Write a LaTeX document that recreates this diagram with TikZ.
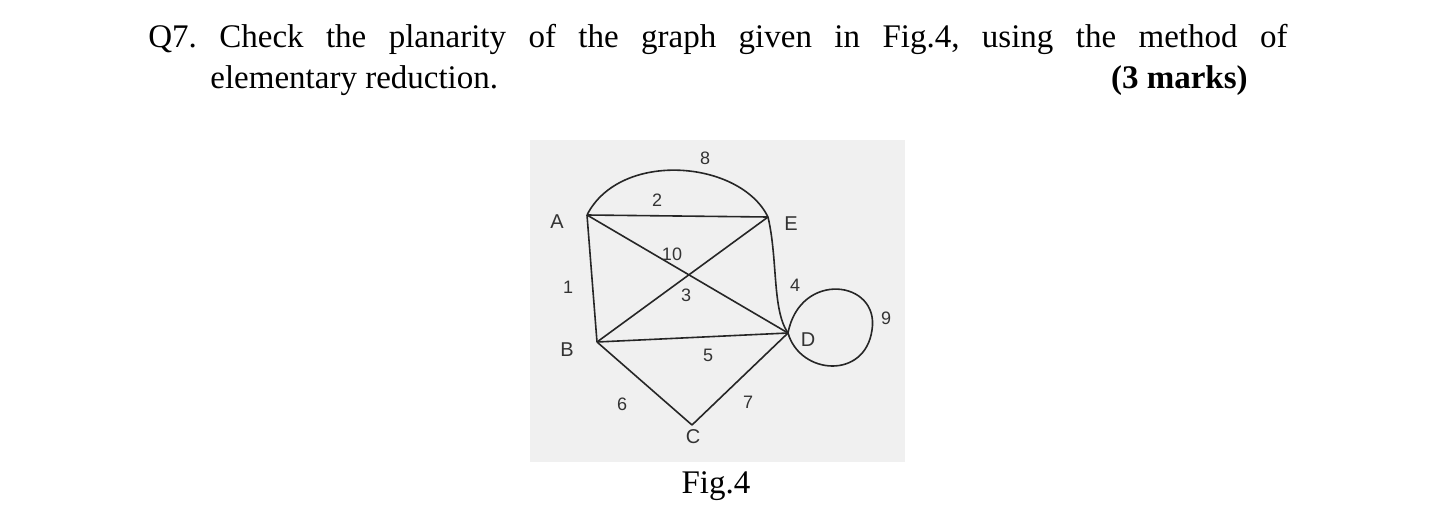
\documentclass[tikz,border=0pt]{standalone}
\usepackage{fontspec}
\setmainfont{Liberation Serif}
\newfontfamily\hand{Liberation Sans}
\frenchspacing
\begin{document}
\begin{tikzpicture}[x=0.5pt,y=-0.5pt,
  edge/.style={line width=0.8pt,black!85},
  vlab/.style={font=\hand\fontsize{10}{10}\selectfont,text=black!80},
  elab/.style={font=\hand\fontsize{9}{9}\selectfont,text=black!80},
  txt/.style={font=\fontsize{16.5}{20}\selectfont,anchor=base west,inner sep=0}]
\useasboundingbox (0,0) rectangle (1440,514);
\fill[black!6] (530,140) rectangle (905,462);
\node[txt] (q1) at (148,47) {\frenchspacing\makebox[569.5pt][s]{Q7.\ Check the planarity of the graph given in Fig.4, using the method of}};
\node[txt] (q2) at (210,88) {elementary reduction.};
\node[txt,anchor=base east] (q3) at (1248,88) {\bfseries (3 marks)};
\node[txt,anchor=base] (fig) at (716,493) {Fig.4};
\coordinate (A) at (587,215);
\coordinate (E) at (768,217);
\coordinate (B) at (597,342);
\coordinate (D) at (788,333);
\coordinate (C) at (692,425);
\draw[edge] (A) -- (E);
\draw[edge] (A) -- (B);
\draw[edge] (A) -- (D);
\draw[edge] (B) -- (E);
\draw[edge] (B) -- (D);
\draw[edge] (B) -- (C);
\draw[edge] (C) -- (D);
\draw[edge] (A) .. controls (620,150) and (740,160) .. (E);
\draw[edge] (E) .. controls (778,260) and (772,310) .. (D);
\draw[edge] (D) .. controls (800,270) and (880,280) .. (872,330) .. controls (865,380) and (800,375) .. (D);
\node[vlab] (lA) at (557,222) {A};
\node[vlab] (lE) at (791,224) {E};
\node[vlab] (lB) at (567,350) {B};
\node[vlab] (lD) at (808,340) {D};
\node[vlab] (lC) at (693,437) {C};
\node[elab] (l8) at (705,158) {8};
\node[elab] (l2) at (657,200) {2};
\node[elab] (l10) at (672,254) {10};
\node[elab] (l1) at (568,287) {1};
\node[elab] (l3) at (686,295) {3};
\node[elab] (l4) at (795,285) {4};
\node[elab] (l5) at (708,355) {5};
\node[elab] (l6) at (622,404) {6};
\node[elab] (l7) at (748,402) {7};
\node[elab] (l9) at (886,318) {9};
\end{tikzpicture}
\end{document}
